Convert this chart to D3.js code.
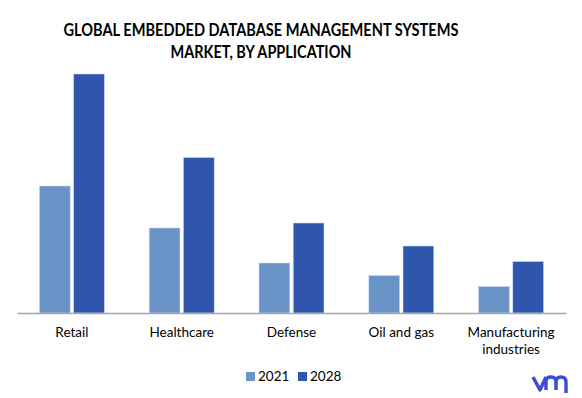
<!DOCTYPE html>
<html>
<head>
<meta charset="utf-8">
<script src="https://cdn.jsdelivr.net/npm/d3@7"></script>
<style>
  body { margin: 0; background: #fff; }
  text { font-family: Lato, "Open Sans", sans-serif; }
</style>
</head>
<body>
<div id="chart"></div>
<script>
var width = 582, height = 398;

// data
var categories = ["Retail", "Healthcare", "Defense", "Oil and gas", "Manufacturing industries"];
var years = ["2021", "2028"];
var values2021 = [1.27, 0.85, 0.50, 0.375, 0.265];
var values2028 = [2.39, 1.555, 0.90, 0.67, 0.515];
var colors = ["#6a93c8", "#2f56ac"];

var rows = categories.map(function(c, i) {
  return { name: c, vals: [values2021[i], values2028[i]] };
});

var svg = d3.select("#chart")
  .append("svg")
  .attr("width", width)
  .attr("height", height);

var x0 = d3.scaleBand().domain(categories).range([17, 566]).paddingInner(0).paddingOuter(0);
var x1 = d3.scaleBand().domain(years).range([x0.bandwidth()/2 - 32.5, x0.bandwidth()/2 + 32.5]).paddingInner(0.1);
var y = d3.scaleLinear().domain([0, 2.5]).range([313, 63]);

// title
var title = svg.append("text")
  .attr("text-anchor", "middle")
  .style("font-weight", "bold")
  .style("font-size", "16.5px")
  .attr("fill", "#000");
title.append("tspan").attr("x", 261).attr("y", 36)
  .attr("textLength", 395).attr("lengthAdjust", "spacingAndGlyphs")
  .text("GLOBAL EMBEDDED DATABASE MANAGEMENT SYSTEMS");
title.append("tspan").attr("x", 261).attr("y", 58)
  .attr("textLength", 181).attr("lengthAdjust", "spacingAndGlyphs")
  .text("MARKET, BY APPLICATION");

// bars
var groups = svg.append("g").selectAll("g")
  .data(rows)
  .enter().append("g")
  .attr("transform", d => "translate(" + x0(d.name) + ",0)");

groups.selectAll("rect")
  .data(d => d.vals.map((v, i) => ({ year: years[i], v: v, i: i })))
  .enter().append("rect")
  .attr("x", d => x1(d.year))
  .attr("y", d => y(d.v))
  .attr("width", x1.bandwidth())
  .attr("height", d => y(0) - y(d.v))
  .attr("fill", d => colors[d.i])
  .attr("stroke", "#c9d7ee")
  .attr("stroke-width", 0.6);

// axis line
var xAxis = d3.axisBottom(x0).tickSize(0).tickFormat("");
svg.append("g")
  .attr("transform", "translate(0," + y(0) + ")")
  .call(xAxis)
  .call(g => g.select(".domain").attr("stroke", "#a6a6a6").attr("stroke-width", 1.3));

// category labels
var labels = svg.append("g").selectAll("text")
  .data(categories)
  .enter().append("text")
  .attr("text-anchor", "middle")
  .style("font-size", "13.5px")
  .attr("fill", "#000");
labels.each(function(d) {
  var parts = d === "Manufacturing industries" ? ["Manufacturing", "industries"] : [d];
  var t = d3.select(this);
  parts.forEach(function(p, k) {
    t.append("tspan")
      .attr("x", x0(d) + x0.bandwidth()/2)
      .attr("y", 337 + k * 17)
      .text(p);
  });
});

// legend
var legend = svg.append("g").selectAll("g")
  .data(years)
  .enter().append("g")
  .attr("transform", (d, i) => "translate(" + (246 + i * 52) + ",372)");
legend.append("rect")
  .attr("width", 9).attr("height", 9)
  .attr("fill", (d, i) => colors[i]);
legend.append("text")
  .attr("x", 12).attr("y", 8.5)
  .style("font-size", "13.5px")
  .attr("fill", "#000")
  .text(d => d);

// logo
svg.append("path")
  .attr("d", "M533,377 L540,390 L546,377 M546,390 L546,381 Q546,377 551,377 Q556,377 556,382 L556,390 M556,382 Q556,377 561,377 Q566,377 566,382 L566,393")
  .attr("fill", "none")
  .attr("stroke", "#3b4fd3")
  .attr("stroke-width", 3.5)
  .attr("stroke-linejoin", "round");
</script>
</body>
</html>
